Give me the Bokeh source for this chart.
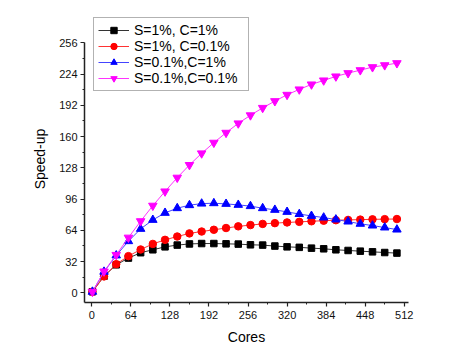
from bokeh.plotting import figure
from bokeh.models import FixedTicker, Legend, LegendItem, Range1d
from bokeh.embed import file_html
from bokeh.resources import INLINE

cores = [1, 20, 40, 60, 80, 100, 120, 140, 160, 180, 200, 220, 240, 260,
         280, 300, 320, 340, 360, 380, 400, 420, 440, 460, 480, 500]
s1_c1 = [1, 17, 28.6, 35.5, 41, 44, 47, 48.8, 50, 50.4, 50.4, 50.1, 49.8, 49.1,
         48.8, 47.8, 47, 46.5, 45.7, 45, 44, 43.3, 42.6, 41.9, 41.2, 40.6]
s1_c01 = [1, 16.7, 29.3, 37.5, 44.3, 50, 54.2, 57.6, 60.8, 62.7, 64.5, 66.3, 68, 69.3,
          70.5, 71.3, 72, 72.6, 73.2, 73.8, 74.3, 74.6, 74.9, 75.2, 75.4, 75.5]
s01_c1 = [1, 21.5, 38.2, 52.8, 65.4, 74.6, 81.8, 86.6, 89.7, 91.3, 91.7, 91, 90, 88.7,
          86.6, 84.9, 82.8, 80.6, 78.7, 77, 75, 72.9, 70.6, 68.8, 66.8, 64.7]
s01_c01 = [1, 21.8, 38.8, 56.5, 73.3, 89.2, 103.8, 117.9, 130.9, 142.8, 153.7, 163.9, 173.5, 181.8,
           189.4, 196.3, 202.8, 208.3, 213.4, 217.5, 221.6, 225, 228, 231.1, 233.1, 235.2]

labels = ["S=1%, C=1%", "S=1%, C=0.1%", "S=0.1%,C=1%", "S=0.1%,C=0.1%"]
x_ticks = [0, 64, 128, 192, 256, 320, 384, 448, 512]
x_minor = [32, 96, 160, 224, 288, 352, 416, 480]
y_ticks = [0, 32, 64, 96, 128, 160, 192, 224, 256]
y_minor = [16, 48, 80, 112, 144, 176, 208, 240]

FONT = "Liberation Sans"

p = figure(width=466, height=355, output_backend="svg", toolbar_location=None,
           x_range=Range1d(-12, 519), y_range=Range1d(-10, 284),
           min_border_left=84, min_border_right=58, min_border_top=15, min_border_bottom=53)
p.outline_line_color = None
p.xgrid.visible = False
p.ygrid.visible = False
p.background_fill_color = "white"
p.border_fill_color = "white"

p.xaxis.ticker = FixedTicker(ticks=x_ticks, minor_ticks=x_minor)
p.yaxis.ticker = FixedTicker(ticks=y_ticks, minor_ticks=y_minor)
p.yaxis.bounds = (-10, 256)
p.xaxis.axis_label = "Cores"
p.yaxis.axis_label = "Speed-up"
for ax in (p.xaxis, p.yaxis):
    ax.axis_line_width = 1.5
    ax.axis_line_color = "#222222"
    ax.major_tick_line_color = "#222222"
    ax.minor_tick_line_color = "#222222"
    ax.major_tick_line_width = 1.2
    ax.minor_tick_line_width = 1
    ax.major_tick_out = 4
    ax.major_tick_in = 0
    ax.minor_tick_out = 2
    ax.minor_tick_in = 0
    ax.major_label_text_font = FONT
    ax.major_label_text_font_size = "11px"
    ax.major_label_text_color = "#111111"
    ax.axis_label_text_font = FONT
    ax.axis_label_text_font_size = "14px"
    ax.axis_label_text_font_style = "normal"
    ax.axis_label_text_color = "#000000"
p.xaxis.major_label_standoff = 4
p.yaxis.major_label_standoff = 3
p.xaxis.axis_label_standoff = 7
p.yaxis.axis_label_standoff = 8

series = [
    (s1_c1, "#000000", "#333333", "square", 6.5),
    (s1_c01, "#FF0000", "#FF3333", "circle", 7.5),
    (s01_c1, "#0000FF", "#4444FF", "triangle", 8.5),
    (s01_c01, "#FF00FF", "#FF33FF", "inverted_triangle", 8.5),
]
items = []
for (vals, col, lcol, marker, size), lab in zip(series, labels):
    ln = p.line(cores, vals, line_color=lcol, line_width=1)
    sc = p.scatter(cores, vals, marker=marker, size=size, fill_color=col, line_color=col)
    items.append(LegendItem(label=lab, renderers=[ln, sc]))

legend = Legend(items=items, location=(9, 211), padding=4, spacing=0,
                label_height=16, glyph_height=16, glyph_width=31, label_standoff=5,
                label_width=110, label_text_font=FONT, label_text_font_size="14px",
                label_text_color="#000000", border_line_color="#666666",
                border_line_width=1, background_fill_color="white", background_fill_alpha=1,
                margin=0)
p.add_layout(legend)

open("out.html", "w").write(file_html(p, INLINE))
